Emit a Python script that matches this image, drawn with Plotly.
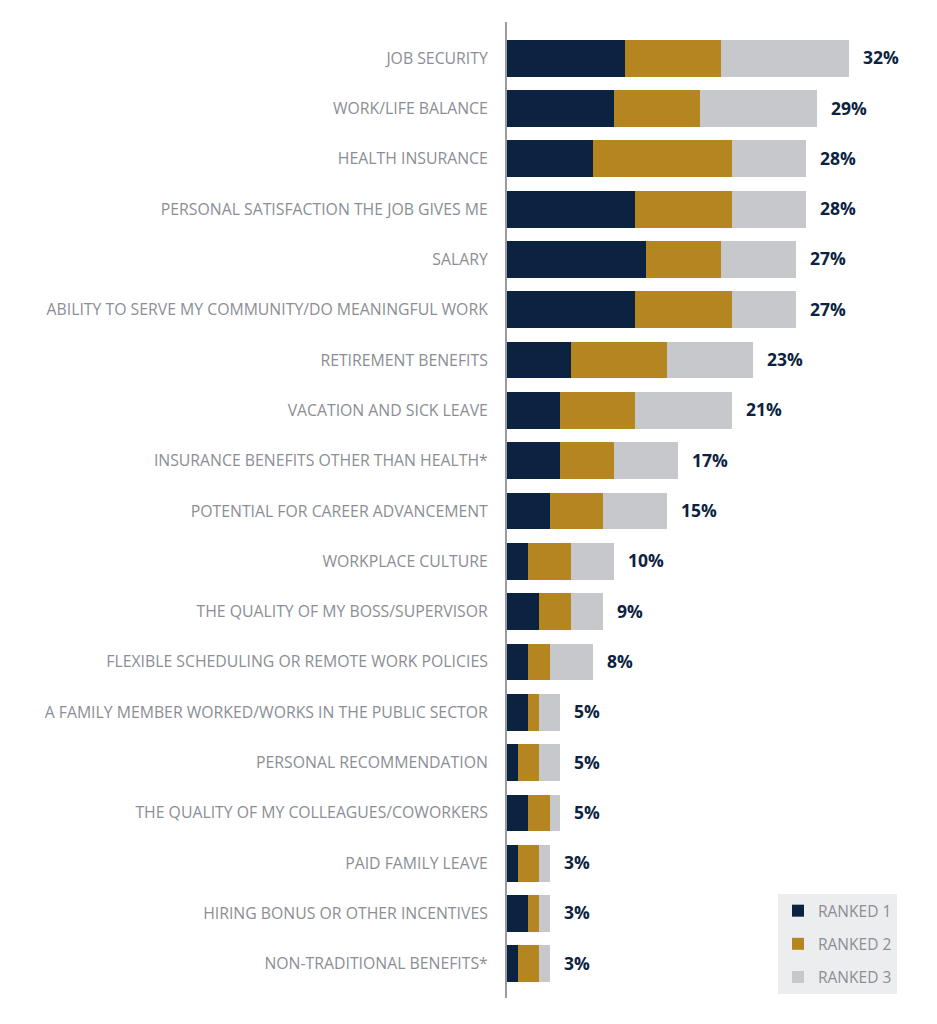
import plotly.graph_objects as go

categories = [
    "JOB SECURITY",
    "WORK/LIFE BALANCE",
    "HEALTH INSURANCE",
    "PERSONAL SATISFACTION THE JOB GIVES ME",
    "SALARY",
    "ABILITY TO SERVE MY COMMUNITY/DO MEANINGFUL WORK",
    "RETIREMENT BENEFITS",
    "VACATION AND SICK LEAVE",
    "INSURANCE BENEFITS OTHER THAN HEALTH*",
    "POTENTIAL FOR CAREER ADVANCEMENT",
    "WORKPLACE CULTURE",
    "THE QUALITY OF MY BOSS/SUPERVISOR",
    "FLEXIBLE SCHEDULING OR REMOTE WORK POLICIES",
    "A FAMILY MEMBER WORKED/WORKS IN THE PUBLIC SECTOR",
    "PERSONAL RECOMMENDATION",
    "THE QUALITY OF MY COLLEAGUES/COWORKERS",
    "PAID FAMILY LEAVE",
    "HIRING BONUS OR OTHER INCENTIVES",
    "NON-TRADITIONAL BENEFITS*",
]
ranked1 = [11, 10, 8, 12, 13, 12, 6, 5, 5, 4, 2, 3, 2, 2, 1, 2, 1, 2, 1]
ranked2 = [9, 8, 13, 9, 7, 9, 9, 7, 5, 5, 4, 3, 2, 1, 2, 2, 2, 1, 2]
ranked3 = [12, 11, 7, 7, 7, 6, 8, 9, 6, 6, 4, 3, 4, 2, 2, 1, 1, 1, 1]
total_labels = ["32%", "29%", "28%", "28%", "27%", "27%", "23%", "21%", "17%", "15%",
                "10%", "9%", "8%", "5%", "5%", "5%", "3%", "3%", "3%"]

NAVY = "#0b2240"
GOLD = "#b5861f"
GRAY = "#c7c8cb"
LABEL_GRAY = "#8b8e94"
FONT = "Open Sans"

fig = go.Figure()
for name, vals, col, grp in [("RANKED 1", ranked1, NAVY, "a"),
                             ("RANKED 2", ranked2, GOLD, "b"),
                             ("RANKED 3", ranked3, GRAY, "c")]:
    fig.add_trace(go.Bar(
        y=categories, x=vals, name=name, orientation="h",
        marker=dict(color=col, line=dict(width=0)),
        legendgroup=grp, hoverinfo="skip",
    ))

totals = [a + b + c for a, b, c in zip(ranked1, ranked2, ranked3)]
for cat, tot, lab in zip(categories, totals, total_labels):
    fig.add_annotation(x=tot, y=cat, text=lab, showarrow=False,
                       xanchor="left", xshift=12, yshift=1,
                       font=dict(family=FONT, size=17.5, color=NAVY, weight="bold"))

fig.update_layout(
    width=937, height=1024,
    margin=dict(l=507, r=30, t=22, b=26),
    barmode="stack", bargap=0.27,
    plot_bgcolor="white", paper_bgcolor="white",
    font=dict(family=FONT, color=LABEL_GRAY, size=15),
    xaxis=dict(range=[0, 37.4], visible=False, fixedrange=True),
    yaxis=dict(type="category", range=[18.68, -0.72], showline=True,
               linecolor="#9a9b9e", linewidth=2, showgrid=False,
               ticks="", ticklabelstandoff=14,
               tickfont=dict(family=FONT, size=15.8, color=LABEL_GRAY)),
    legend=dict(x=0.6775, y=0.004, xanchor="left", yanchor="bottom",
                bgcolor="#ecedef", traceorder="grouped", tracegroupgap=10,
                font=dict(family=FONT, size=15.5, color=LABEL_GRAY),
                itemwidth=30),
    showlegend=True,
)

fig.write_html("out.html")
